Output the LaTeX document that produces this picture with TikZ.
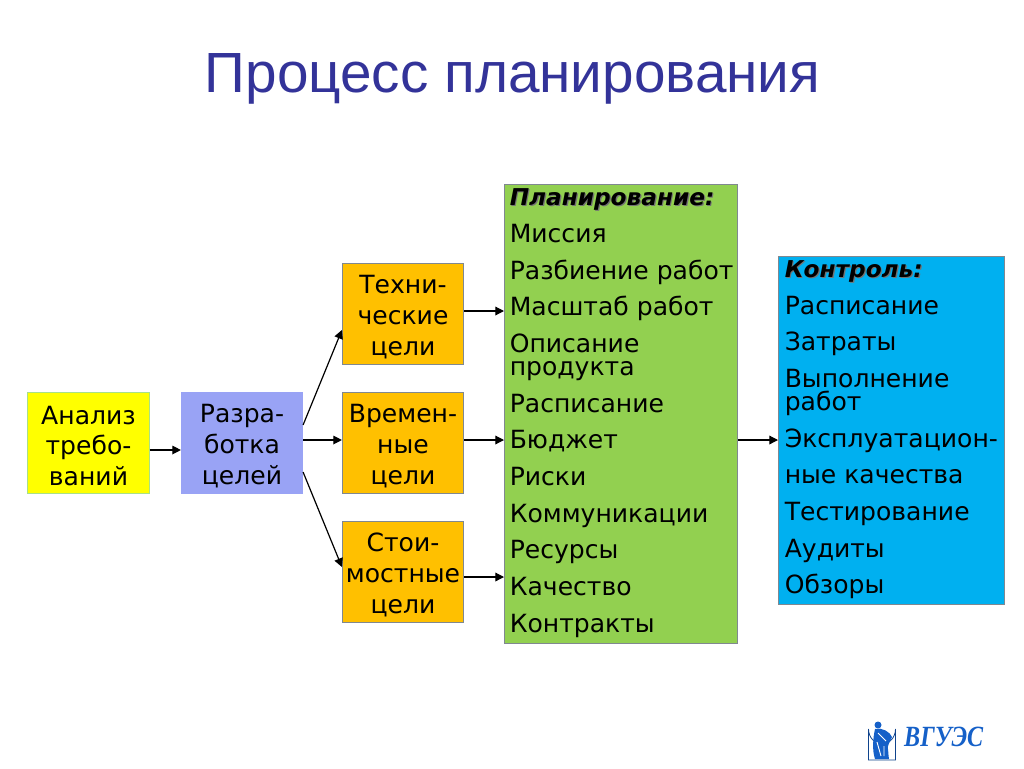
\documentclass[tikz,border=0pt]{standalone}
\usepackage{fontspec}
\setmainfont{DejaVu Sans}
\newfontfamily\titlefont{Liberation Sans}
\newfontfamily\logofont{Liberation Serif}
\usetikzlibrary{arrows.meta,calc}
\definecolor{titleblue}{HTML}{333399}
\definecolor{yellowfill}{HTML}{FFFF00}
\definecolor{yellowedge}{HTML}{A8E088}
\definecolor{periwinkle}{HTML}{99A3F5}
\definecolor{orangefill}{HTML}{FFC000}
\definecolor{greenfill}{HTML}{92D050}
\definecolor{cyanfill}{HTML}{00B0F0}
\definecolor{edgegray}{HTML}{808890}
\definecolor{logoblue}{HTML}{1560C8}
\newcommand{\shadowhead}[1]{\rlap{\kern0.9pt\raisebox{-0.9pt}{\fontsize{17.4}{27.5}\selectfont\textcolor{black!55}{\bfseries\itshape #1}}}{\fontsize{17.4}{27.5}\selectfont\bfseries\itshape #1}}
\newcommand{\lowerfirst}{\rule{0pt}{18.2pt}}
\tikzset{
  x=0.75pt,y=-0.75pt,
  bodytext/.style={font=\fontsize{18.8}{23.2}\selectfont,text=black},
  smallbox/.style={bodytext,minimum width=91pt,minimum height=76pt,inner sep=0pt,align=center,line width=0.6pt},
  goalbox/.style={smallbox,fill=orangefill,draw=edgegray},
  listbox/.style={draw=edgegray,line width=0.6pt,inner sep=0pt,anchor=north west},
  listtext/.style={inner sep=0pt,anchor=north west,align=left,text=black,font=\fontsize{18.8}{27.5}\selectfont},
  flow/.style={-{Triangle[length=6.5pt,width=6.5pt]},line width=0.9pt,black},
}
\begin{document}
\begin{tikzpicture}
\useasboundingbox (0,0) rectangle (1024,768);
\node[font=\titlefont\fontsize{42.5}{50}\selectfont,text=titleblue,inner sep=0pt,anchor=base] (title) at (512.5,92) {Процесс планирования};

\node[smallbox,fill=yellowfill,draw=yellowedge] (analysis) at (88.5,443) {\lowerfirst Анализ\\требо-\\ваний};
\node[smallbox,fill=periwinkle,draw=periwinkle] (dev) at (242,443) {\lowerfirst Разра-\\ботка\\целей};
\node[goalbox] (tech) at (403,314) {\lowerfirst Техни-\\ческие\\цели};
\node[goalbox] (time) at (403,443) {\lowerfirst Времен-\\ные\\цели};
\node[goalbox] (cost) at (403,572) {\lowerfirst Стои-\\мостные\\цели};

\node[listbox,fill=greenfill,minimum width=175pt,minimum height=344pt] (plan) at (504,184) {};
\node[listtext] (plantext) at (509.5,188.5) {\shadowhead{Планирование:}\\Миссия\\Разбиение работ\\Масштаб работ\\Описание\\[-10.2pt]продукта\\Расписание\\Бюджет\\Риски\\Коммуникации\\Ресурсы\\Качество\\Контракты};

\node[listbox,fill=cyanfill,minimum width=169.5pt,minimum height=261pt] (ctrl) at (778,256) {};
\node[listtext] (ctrltext) at (784.5,260.2) {\shadowhead{Контроль:}\\Расписание\\Затраты\\Выполнение\\[-10.2pt]работ\\Эксплуатацион-\\ные качества\\Тестирование\\Аудиты\\Обзоры};

\draw[flow] ($(analysis.east)+(0,7)$) -- ($(dev.west)+(0,7)$);
\draw[flow] ($(dev.east)+(0,-18)$) -- ($(tech.west)+(0,16)$);
\draw[flow] ($(dev.east)+(0,-3)$) -- ($(time.west)+(0,-3)$);
\draw[flow] ($(dev.east)+(0,29)$) -- ($(cost.west)+(0,-5)$);
\draw[flow] ($(tech.east)+(0,-3)$) -- ($(tech.east -| plan.west)+(0,-3)$);
\draw[flow] ($(time.east)+(0,-3)$) -- ($(time.east -| plan.west)+(0,-3)$);
\draw[flow] ($(cost.east)+(0,5)$) -- ($(cost.east -| plan.west)+(0,5)$);
\draw[flow] (plan.east |- 0,440) coordinate (planout) -- (ctrl.west |- planout);

% logo
\draw[logoblue!70!black,line width=0.6pt] (868.5,760) -- (868.5,729) arc[start angle=180,end angle=0,x radius=13.5,y radius=15] -- (895.5,760) -- cycle;
\fill[logoblue] (878,725) circle[radius=3.5];
\fill[logoblue] (875,729) .. controls (882,727) and (890,732) .. (892,737) .. controls (890,742) and (887,745) .. (888,750) .. controls (889,754) and (888,757) .. (889,759) -- (875,759) .. controls (872,750) and (873,738) .. (875,729) -- cycle;
\draw[white,line width=0.7pt] (878,733) -- (886,741) (877,742) -- (881,756) (884,746) -- (884,756);
\node[font=\logofont\bfseries\itshape\fontsize{22}{22}\selectfont,text=logoblue,inner sep=0pt,anchor=base west,xscale=0.82] (logo) at (904,746) {ВГУЭС};
\end{tikzpicture}
\end{document}
